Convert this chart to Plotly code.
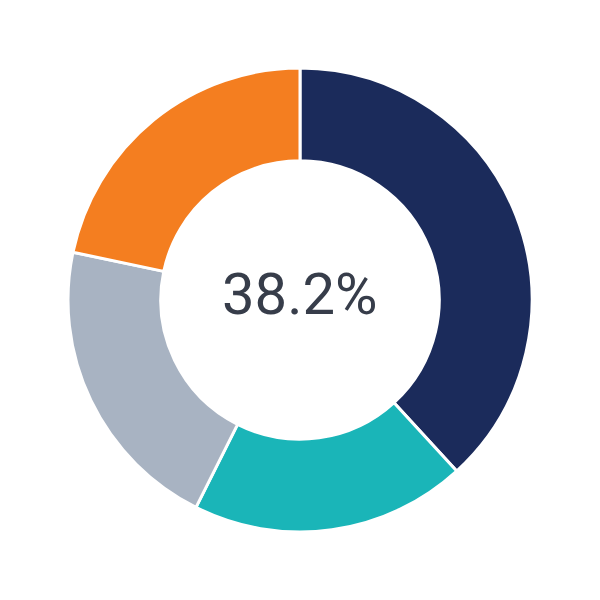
import plotly.graph_objects as go

labels = ["Navy", "Teal", "Gray", "Orange"]
values = [38.2, 19.2, 20.9, 21.7]
colors = ["#1b2b5b", "#1ab5b8", "#a8b3c2", "#f47e20"]
center_text = "38.2%"

fig = go.Figure(go.Pie(
    labels=labels,
    values=values,
    hole=0.6,
    sort=False,
    direction="clockwise",
    rotation=0,
    marker=dict(colors=colors, line=dict(color="white", width=3)),
    textinfo="none",
    hoverinfo="label+percent",
))

fig.add_annotation(
    text=center_text, x=0.5, y=0.5, xref="paper", yref="paper",
    showarrow=False, yshift=6,
    font=dict(family="Roboto", size=58, color="#373d4a"),
)

# page body adds 8px offset, so shift margins up-left
fig.update_layout(
    width=600, height=600,
    margin=dict(l=60, r=76, t=60, b=76),
    showlegend=False,
    paper_bgcolor="white",
)

fig.write_html("out.html")
